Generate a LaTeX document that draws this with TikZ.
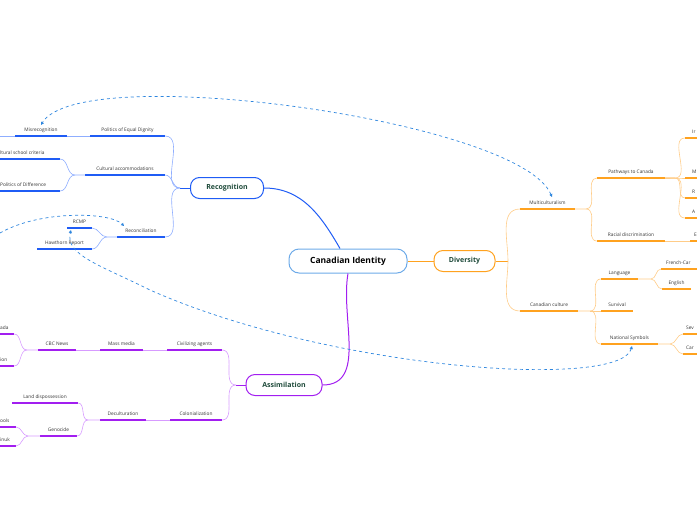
\documentclass[tikz,border=0pt]{standalone}
\usepackage{fontspec}
\setmainfont{Open Sans}
\usetikzlibrary{arrows.meta}
\definecolor{bl}{HTML}{1F5CF5}\definecolor{bll}{HTML}{8FAEFF}
\definecolor{pu}{HTML}{A21EF0}\definecolor{pul}{HTML}{D79BFF}
\definecolor{or}{HTML}{FFA21F}\definecolor{orl}{HTML}{FFCC88}
\definecolor{dg}{HTML}{1E4A3A}\definecolor{ds}{HTML}{2E86DE}
\newcommand{\leaf}[6]{%
 \coordinate (#1-l) at (#2,#4); \coordinate (#1-r) at (#3,#4);
 \draw[#6,line width=1.4pt] (#1-l) -- (#1-r);
 \node[lbl,anchor=base] (#1) at ({(#2+#3)/2},{#4-4.5}) {#5};}
\begin{document}
\begin{tikzpicture}[x=1pt,y=-1pt,
 lbl/.style={font=\fontsize{4.8}{5}\selectfont,inner sep=0pt,text=black!80},
 main/.style={draw,rounded corners=9pt,line width=1pt,minimum height=21pt,font=\bfseries\fontsize{7}{8}\selectfont,text=dg},
 cb/.style={bll,line width=0.6pt},cp/.style={pul,line width=0.6pt},co/.style={orl,line width=0.6pt},
 dsh/.style={ds,dashed,line width=0.7pt,{Triangle[length=3pt,width=3pt]}-{Triangle[length=3pt,width=3pt]}}]
\useasboundingbox (0,0) rectangle (697,520);
\begin{scope}
\clip (0,0) rectangle (697,520);
% central
\node[draw=ds!70,rounded corners=10pt,line width=1pt,minimum width=118pt,minimum height=24pt,font=\bfseries\fontsize{8.5}{9}\selectfont] (ci) at (348,261) {Canadian Identity};
\node[main,draw=bl,minimum width=73pt] (rec) at (227,188) {Recognition};
\node[main,draw=or,minimum width=61pt] (div) at (464.5,261) {Diversity};
\node[main,draw=pu,minimum width=76pt] (ass) at (284,385) {Assimilation};
\draw[bl,line width=1pt] (rec.east) to[out=0,in=120] (ci.north west -| 340,250);
\draw[or,line width=1pt] (ci.east) -- (div.west);
\draw[pu,line width=1pt] (ci.south) ++(0,0) to[out=-100,in=0] (ass.east);
% recognition
\coordinate (rh) at (180,188);
\draw[bl,line width=1pt] (rec.west) -- (rh);
\leaf{ped}{90}{165}{136}{Politics of Equal Dignity}{bl}
\leaf{mis}{15}{67}{136}{Misrecognition}{bl}
\leaf{cac}{85}{165}{175}{Cultural accommodations}{bl}
\leaf{csc}{-40}{60}{159}{}{bl}
\node[lbl,anchor=base west] at (0,154.5) {ltural school criteria};
\leaf{pod}{-10}{60}{191}{}{bl}
\node[lbl,anchor=base west] at (0,186.5) {Politics of Difference};
\leaf{rcn}{117}{165}{237}{Reconciliation}{bl}
\leaf{rcmp}{67}{92}{228}{RCMP}{bl}
\leaf{haw}{37}{92}{249}{Hawthorn Report}{bl}
\draw[cb] (rh) to[out=180,in=0] (ped-r);
\draw[cb] (rh) to[out=180,in=0] (cac-r);
\draw[cb] (rh) to[out=180,in=0] (rcn-r);
\draw[cb] (ped-l) -- (mis-r);
\draw[cb] (mis-l) -- (0,136);
\draw[cb] (cac-l) -- (75,175) to[out=180,in=0] (csc-r);
\draw[cb] (75,175) to[out=180,in=0] (pod-r);
\draw[cb] (rcn-l) -- (107,237) to[out=180,in=0] (rcmp-r);
\draw[cb] (107,237) to[out=180,in=0] (haw-r);
% assimilation
\coordinate (ah) at (236,385);
\draw[pu,line width=1pt] (ass.west) -- (ah);
\leaf{civ}{167}{222}{350}{Civilizing agents}{pu}
\leaf{mm}{100}{143}{350}{Mass media}{pu}
\leaf{cbc}{38}{76}{350}{CBC News}{pu}
\leaf{ada}{-20}{14}{334}{}{pu}\node[lbl,anchor=base west] at (0,329.5) {ada};
\leaf{ion}{-20}{14}{366}{}{pu}\node[lbl,anchor=base west] at (0,361.5) {ion};
\leaf{col}{170}{222}{420}{Colonialization}{pu}
\leaf{dec}{100}{146}{420}{Deculturation}{pu}
\leaf{land}{12}{78}{403}{Land dispossession}{pu}
\leaf{gen}{40}{77}{436}{Genocide}{pu}
\leaf{ools}{-20}{16}{427}{}{pu}\node[lbl,anchor=base west] at (0,422.5) {ools};
\leaf{inuk}{-20}{16}{446}{}{pu}\node[lbl,anchor=base west] at (0,441.5) {inuk};
\draw[cp] (ah) to[out=180,in=0] (civ-r);
\draw[cp] (ah) to[out=180,in=0] (col-r);
\draw[cp] (civ-l) -- (mm-r); \draw[cp] (mm-l) -- (cbc-r);
\draw[cp] (cbc-l) -- (27,350) to[out=180,in=0] (ada-r);
\draw[cp] (27,350) to[out=180,in=0] (ion-r);
\draw[cp] (col-l) -- (dec-r);
\draw[cp] (dec-l) -- (88,420) to[out=180,in=0] (land-r);
\draw[cp] (88,420) to[out=180,in=0] (gen-r);
\draw[cp] (gen-l) -- (28,436) to[out=180,in=0] (ools-r);
\draw[cp] (28,436) to[out=180,in=0] (inuk-r);
% diversity
\coordinate (dh) at (508,261);
\draw[or,line width=1pt] (div.east) -- (dh);
\leaf{mul}{520}{575}{209}{Multiculturalism}{or}
\leaf{cc}{520}{578}{311}{Canadian culture}{or}
\leaf{ptc}{597}{665}{178}{Pathways to Canada}{or}
\leaf{rd}{597}{665}{241}{Racial discrimination}{or}
\leaf{ir}{685}{720}{138}{}{or}\node[lbl,anchor=base west] at (692,133.5) {Ir};
\leaf{m}{685}{720}{178}{}{or}\node[lbl,anchor=base west] at (692,173.5) {M};
\leaf{r}{685}{720}{198}{}{or}\node[lbl,anchor=base west] at (692,193.5) {R};
\leaf{a}{685}{720}{218}{}{or}\node[lbl,anchor=base west] at (692,213.5) {A};
\leaf{e}{690}{720}{241}{}{or}\node[lbl,anchor=base west] at (694,236.5) {E};
\leaf{lang}{601}{638}{279}{Language}{or}
\leaf{surv}{601}{633}{311}{Survival}{or}
\leaf{ns}{601}{658}{344}{National Symbols}{or}
\leaf{fc}{661}{720}{269}{}{or}\node[lbl,anchor=base west] at (666,264.5) {French-Car};
\leaf{en}{662}{691}{289}{English}{or}
\leaf{sev}{683}{720}{334}{}{or}\node[lbl,anchor=base west] at (686,329.5) {Sev};
\leaf{car}{683}{720}{354}{}{or}\node[lbl,anchor=base west] at (686,349.5) {Car};
\draw[co] (dh) to[out=90,in=180] (mul-l);
\draw[co] (dh) to[out=-90,in=180] (cc-l);
\draw[co] (mul-r) -- (586,209) to[out=0,in=180] (ptc-l);
\draw[co] (586,209) to[out=0,in=180] (rd-l);
\draw[co] (cc-r) -- (590,311) to[out=0,in=180] (lang-l);
\draw[co] (590,311) -- (surv-l);
\draw[co] (590,311) to[out=0,in=180] (ns-l);
\foreach \c in {ir,m,r,a} \draw[co] (ptc-r) -- (675,178) to[out=0,in=180] (\c-l);
\draw[co] (rd-r) -- (e-l);
\draw[co] (lang-r) -- (651,279) to[out=0,in=180] (fc-l);
\draw[co] (651,279) to[out=0,in=180] (en-l);
\draw[co] (ns-r) -- (670,344) to[out=0,in=180] (sev-l);
\draw[co] (670,344) to[out=0,in=180] (car-l);
% dashed relations
\coordinate (mulT) at (552,197); \coordinate (misT) at (41,125);
\draw[dsh] (mulT) .. controls (520,120) and (80,60) .. (misT);
\draw[ds,dashed,line width=0.7pt,-{Triangle[length=3pt,width=3pt]}] (0,233) .. controls (40,210) and (110,212) .. (124,226);
\coordinate (nsT) at (632,346); \coordinate (rcT) at (71,230);
\draw[dsh] (nsT) .. controls (620,390) and (330,370) .. (150,290) .. controls (100,265) and (65,255) .. (rcT);
\end{scope}
\end{tikzpicture}
\end{document}
